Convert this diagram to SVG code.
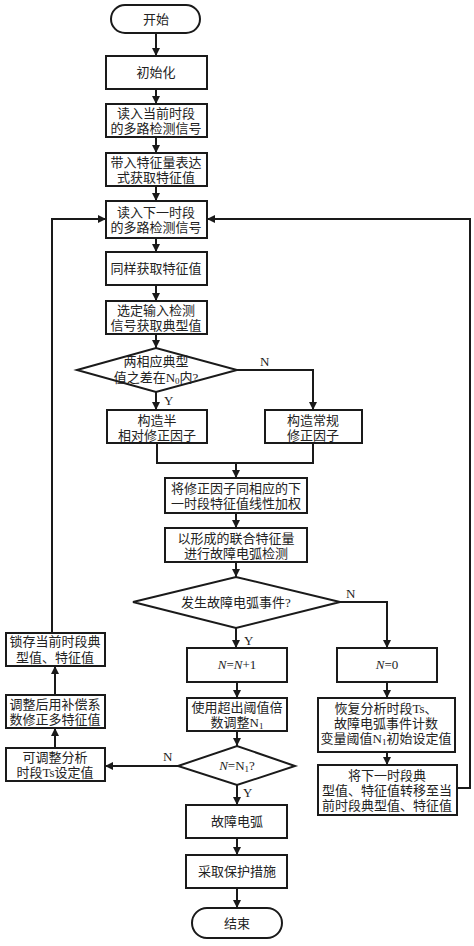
<svg xmlns="http://www.w3.org/2000/svg" width="474" height="946" viewBox="0 0 474 946">
<defs>
<marker id="ah" viewBox="0 0 10 10" refX="10" refY="5" markerWidth="8" markerHeight="8" markerUnits="userSpaceOnUse" orient="auto">
<path d="M0,0 L10,5 L0,10 Z" fill="#1a1a1a"/>
</marker>
<style>
.b{fill:#fff;stroke:#1a1a1a;stroke-width:2}
.t{font-family:"Liberation Serif","Noto Sans CJK SC",serif;font-size:13px;fill:#222;text-anchor:middle}
.l{font-family:"Liberation Serif",serif;font-size:13px;fill:#222}
.c{fill:none;stroke:#1a1a1a;stroke-width:2}
.a{fill:none;stroke:#1a1a1a;stroke-width:2;marker-end:url(#ah)}
</style>
</defs>
<rect width="474" height="946" fill="#fff"/>
<g id="connectors">
<path class="a" d="M156,33 V56"/>
<path class="a" d="M156,89 V104"/>
<path class="a" d="M156,137 V153"/>
<path class="a" d="M156,186 V201"/>
<path class="a" d="M156,238 V252"/>
<path class="a" d="M156,285 V301"/>
<path class="a" d="M156,334 V348"/>
<path class="a" d="M156,392 V410"/>
<path class="a" d="M237,370 H313 V410"/>
<path class="c" d="M157,443 V463 H313 V443"/>
<path class="a" d="M236,463 V478"/>
<path class="a" d="M236,513 V528"/>
<path class="a" d="M236,562 V577"/>
<path class="a" d="M236,628 V648"/>
<path class="a" d="M340,602 H387 V648"/>
<path class="a" d="M237,682 V698"/>
<path class="a" d="M237,731 V746"/>
<path class="a" d="M237,785 V805"/>
<path class="a" d="M237,838 V855"/>
<path class="a" d="M237,888 V908"/>
<path class="a" d="M387,682 V698"/>
<path class="a" d="M387,752 V765"/>
<path class="a" d="M457,788 H470 V219 H207"/>
<path class="a" d="M178,766 H105"/>
<path class="a" d="M55,748 V728"/>
<path class="a" d="M55,695 V666"/>
<path class="a" d="M52,633 V219 H106"/>
<text class="l" x="164" y="405">Y</text>
<text class="l" x="260" y="366">N</text>
<text class="l" x="244" y="645">Y</text>
<text class="l" x="346" y="598">N</text>
<text class="l" x="243" y="797">Y</text>
<text class="l" x="163" y="761">N</text>
</g>
<g id="start"><rect class="b" x="111" y="5" width="89" height="28" rx="14"/><text class="t" x="156" y="24">开始</text></g>
<g id="init"><rect class="b" x="106" y="56" width="101" height="33"/><text class="t" x="156" y="77">初始化</text></g>
<g id="read1"><rect class="b" x="106" y="104" width="101" height="33"/><text class="t" x="156" y="118">读入当前时段</text><text class="t" x="156" y="133">的多路检测信号</text></g>
<g id="feat1"><rect class="b" x="106" y="153" width="101" height="33"/><text class="t" x="156" y="167">带入特征量表达</text><text class="t" x="156" y="182">式获取特征值</text></g>
<g id="read2"><rect class="b" x="106" y="201" width="101" height="37"/><text class="t" x="156" y="217">读入下一时段</text><text class="t" x="156" y="232">的多路检测信号</text></g>
<g id="same"><rect class="b" x="106" y="252" width="101" height="33"/><text class="t" x="156" y="273">同样获取特征值</text></g>
<g id="select"><rect class="b" x="106" y="301" width="101" height="33"/><text class="t" x="156" y="315">选定输入检测</text><text class="t" x="156" y="330">信号获取典型值</text></g>
<g id="dec1"><polygon class="b" points="77,370 156,348 237,370 156,392"/><text class="t" x="156" y="366">两相应典型</text><text class="t" x="156" y="382">值之差在N<tspan font-size="9" dy="2">0</tspan><tspan dy="-2">内?</tspan></text></g>
<g id="semi"><rect class="b" x="107" y="410" width="100" height="33"/><text class="t" x="157" y="425">构造半</text><text class="t" x="157" y="440">相对修正因子</text></g>
<g id="conv"><rect class="b" x="265" y="410" width="97" height="33"/><text class="t" x="313" y="425">构造常规</text><text class="t" x="313" y="440">修正因子</text></g>
<g id="weight"><rect class="b" x="165" y="478" width="142" height="35"/><text class="t" x="236" y="493">将修正因子同相应的下</text><text class="t" x="236" y="508">一时段特征值线性加权</text></g>
<g id="detect"><rect class="b" x="165" y="528" width="142" height="34"/><text class="t" x="236" y="543">以形成的联合特征量</text><text class="t" x="236" y="558">进行故障电弧检测</text></g>
<g id="dec2"><polygon class="b" points="133,602 236,577 340,602 236,628"/><text class="t" x="236" y="607">发生故障电弧事件?</text></g>
<g id="inc"><rect class="b" x="187" y="648" width="100" height="34"/><text class="t" x="237" y="669"><tspan font-style="italic">N</tspan>=<tspan font-style="italic">N</tspan>+1</text></g>
<g id="adj"><rect class="b" x="187" y="698" width="100" height="33"/><text class="t" x="237" y="712">使用超出阈值倍</text><text class="t" x="237" y="727">数调整N<tspan font-size="9" dy="2">1</tspan></text></g>
<g id="dec3"><polygon class="b" points="178,766 237,746 295,766 237,785"/><text class="t" x="237" y="770"><tspan font-style="italic">N</tspan>=N<tspan font-size="9" dy="2">1</tspan><tspan dy="-2">?</tspan></text></g>
<g id="arc"><rect class="b" x="186" y="805" width="101" height="33"/><text class="t" x="237" y="826">故障电弧</text></g>
<g id="protect"><rect class="b" x="186" y="855" width="101" height="33"/><text class="t" x="237" y="876">采取保护措施</text></g>
<g id="end"><rect class="b" x="192" y="908" width="90" height="30" rx="15"/><text class="t" x="237" y="928">结束</text></g>
<g id="zero"><rect class="b" x="337" y="648" width="100" height="34"/><text class="t" x="387" y="669"><tspan font-style="italic">N</tspan>=0</text></g>
<g id="restore"><rect class="b" x="318" y="698" width="137" height="54"/><text class="t" x="386" y="713">恢复分析时段Ts、</text><text class="t" x="386" y="728">故障电弧事件计数</text><text class="t" x="386" y="743">变量阈值N<tspan font-size="9" dy="2">1</tspan><tspan dy="-2">初始设定值</tspan></text></g>
<g id="transfer"><rect class="b" x="318" y="765" width="139" height="50"/><text class="t" x="387" y="780">将下一时段典</text><text class="t" x="387" y="795">型值、特征值转移至当</text><text class="t" x="387" y="810">前时段典型值、特征值</text></g>
<g id="latch"><rect class="b" x="6" y="633" width="99" height="33"/><text class="t" x="55" y="646">锁存当前时段典</text><text class="t" x="55" y="662">型值、特征值</text></g>
<g id="comp"><rect class="b" x="6" y="695" width="99" height="33"/><text class="t" x="55" y="709">调整后用补偿系</text><text class="t" x="55" y="724">数修正多特征值</text></g>
<g id="ts"><rect class="b" x="6" y="748" width="99" height="33"/><text class="t" x="55" y="762">可调整分析</text><text class="t" x="55" y="777">时段Ts设定值</text></g>
</svg>
